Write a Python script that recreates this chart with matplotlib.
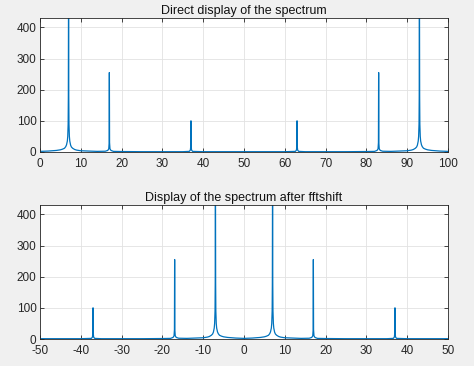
import numpy as np
import matplotlib
matplotlib.use("Agg")
import matplotlib.pyplot as plt

# Half spectrum (0..50 Hz); the full spectrum is symmetric
half_freq = [0, 2, 4, 5, 5.5, 6, 6.3, 6.5, 6.7, 6.8, 6.9, 6.95, 7.0, 7.05, 7.1, 7.2,
             7.3, 7.5, 7.7, 8, 8.5, 9, 10, 12, 14, 16, 16.6, 16.85, 16.95, 17.0,
             17.05, 17.15, 17.4, 18, 20, 25, 30, 35, 36.6, 36.85, 36.95, 37.0,
             37.05, 37.15, 37.4, 40, 45, 50]
half_mag = [2, 3, 5, 7, 9, 12, 17, 23, 35, 50, 90, 180, 560, 180, 90, 50,
            35, 22, 16, 12, 8, 6, 4, 3, 2, 2.5, 5, 10, 30, 255,
            30, 10, 5, 2, 1.5, 1, 1, 1, 2, 6, 18, 100,
            18, 6, 2, 1, 1, 1]

titles = ["Direct display of the spectrum", "Display of the spectrum after fftshift"]
top_xticks = [0, 10, 20, 30, 40, 50, 60, 70, 80, 90, 100]
bot_xticks = [-50, -40, -30, -20, -10, 0, 10, 20, 30, 40, 50]
yticks = [0, 100, 200, 300, 400]

hf = np.array(half_freq)
hm = np.array(half_mag)
# direct: 0..50 then mirrored 50..100
x_direct = np.concatenate([hf, 100 - hf[::-1]])
y_direct = np.concatenate([hm, hm[::-1]])
# shifted: -50..0 mirrored then 0..50
x_shift = np.concatenate([-hf[::-1], hf])
y_shift = np.concatenate([hm[::-1], hm])

plt.rcParams['font.family'] = ['Liberation Sans', 'DejaVu Sans']
plt.rcParams['axes.unicode_minus'] = False
fig = plt.figure(figsize=(4.74, 3.66), dpi=100, facecolor='#f0f0f0')

W, H = 474, 366
ax1 = fig.add_axes([40 / W, 1 - 152 / H, 408 / W, 134 / H])
ax2 = fig.add_axes([40 / W, 1 - 339 / H, 408 / W, 134 / H])

line_color = '#0072BD'
edge = '#262626'
for ax, x, y, xt, xl, title in [
        (ax1, x_direct, y_direct, top_xticks, (0, 100), titles[0]),
        (ax2, x_shift, y_shift, bot_xticks, (-50, 50), titles[1])]:
    ax.plot(x, y, color=line_color, linewidth=0.9)
    ax.set_xlim(*xl)
    ax.set_ylim(0, 430)
    ax.set_xticks(xt)
    ax.set_yticks(yticks)
    ax.grid(True, color='#e2e2e2', linewidth=0.6)
    ax.set_axisbelow(True)
    ax.tick_params(direction='in', length=3, width=0.6, colors=edge,
                   labelsize=8.5, top=True, right=True)
    ax.tick_params(axis='x', pad=4.5)
    ax.tick_params(axis='y', pad=2.5)
    for s in ax.spines.values():
        s.set_color(edge)
        s.set_linewidth(0.6)
    ax.set_title(title, fontsize=9, pad=3, color='#111111')

fig.savefig("out.png", dpi=100, facecolor=fig.get_facecolor())
